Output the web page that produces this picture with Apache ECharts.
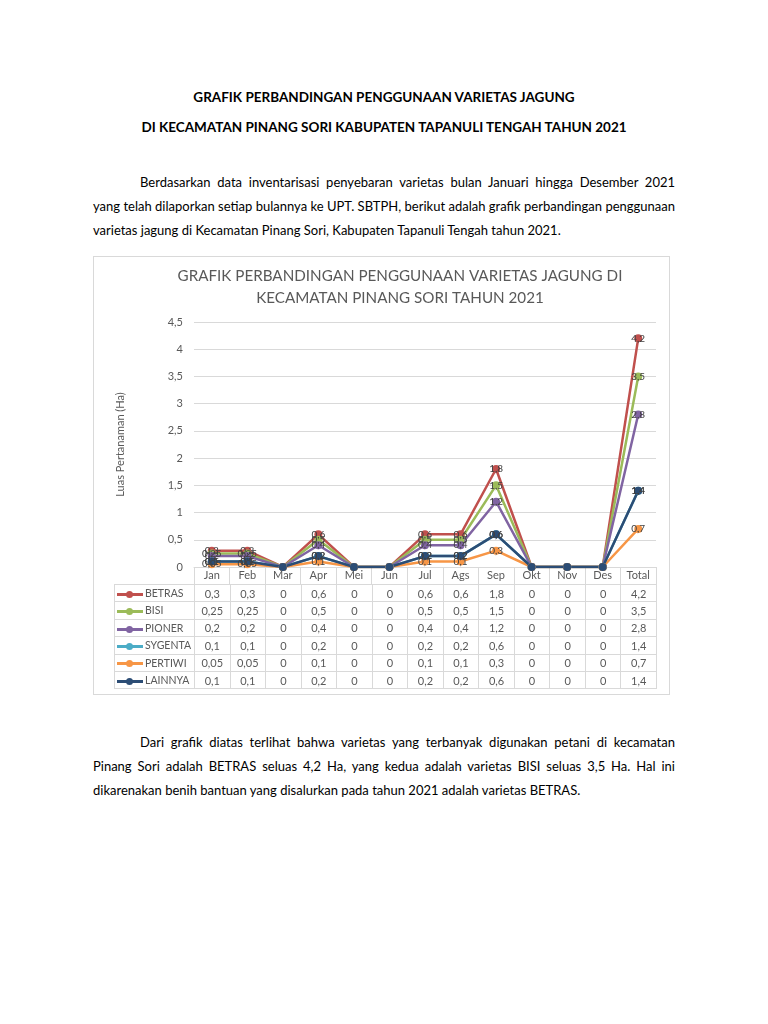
<!DOCTYPE html>
<html><head><meta charset="utf-8">
<script src="https://cdn.jsdelivr.net/npm/echarts@6/dist/echarts.min.js"></script>
<style>
body{margin:0;background:#fff;width:768px;height:1024px;position:relative;font-family:Lato,'Noto Sans',sans-serif;color:#000;overflow:hidden}
.t{position:absolute;left:0;width:768px;text-align:center;font-weight:bold;font-size:13.5px;line-height:20px}
.p{position:absolute;left:93px;width:582px;font-size:13px}
.p div{height:24px;line-height:24px;text-align:justify;text-align-last:justify;white-space:nowrap}
.p div.first{text-indent:47px}
.p div.last{text-align-last:left}
#box{position:absolute;left:93px;top:256px;width:577px;height:439px;border:1px solid #d9d9d9;box-sizing:border-box}
#chart{position:absolute;left:93px;top:256px;width:577px;height:439px}
#tbl{position:absolute;left:114px;top:584px;border-collapse:collapse;font-size:11px;color:#595959;table-layout:fixed}
#tbl td{border:1px solid #d9d9d9;padding:0;text-align:center;overflow:hidden}
#tbl td.nm{text-align:left;white-space:nowrap;font-size:10.5px}
.key{display:inline-block;position:relative;width:26px;height:10px;vertical-align:middle;margin:0 2px 0 2px}
.key i{position:absolute;left:0;top:3.5px;width:26px;height:3px}
.key b{position:absolute;left:9px;top:1.5px;width:7px;height:7px;border-radius:50%}
</style></head>
<body>
<div class="t" style="top:87px">GRAFIK PERBANDINGAN PENGGUNAAN VARIETAS JAGUNG</div>
<div class="t" style="top:117px">DI KECAMATAN PINANG SORI KABUPATEN TAPANULI TENGAH TAHUN 2021</div>
<div class="p" style="top:170px">
<div class="first">Berdasarkan data inventarisasi penyebaran varietas bulan Januari hingga Desember 2021</div>
<div>yang telah dilaporkan setiap bulannya ke UPT. SBTPH, berikut adalah grafik perbandingan penggunaan</div>
<div class="last">varietas jagung di Kecamatan Pinang Sori, Kabupaten Tapanuli Tengah tahun 2021.</div>
</div>
<div id="box"></div>
<div id="chart"></div>
<table id="tbl"></table>
<div class="p" style="top:730px">
<div class="first">Dari grafik diatas terlihat bahwa varietas yang terbanyak digunakan petani di kecamatan</div>
<div>Pinang Sori adalah BETRAS seluas 4,2 Ha, yang kedua adalah varietas BISI seluas 3,5 Ha. Hal ini</div>
<div class="last">dikarenakan benih bantuan yang disalurkan pada tahun 2021 adalah varietas BETRAS.</div>
</div>
<script>
var categories = ['Jan','Feb','Mar','Apr','Mei','Jun','Jul','Ags','Sep','Okt','Nov','Des','Total'];
var seriesNames = ['BETRAS','BISI','PIONER','SYGENTA','PERTIWI','LAINNYA'];
var betras  = [0.3,0.3,0,0.6,0,0,0.6,0.6,1.8,0,0,0,4.2];
var bisi    = [0.25,0.25,0,0.5,0,0,0.5,0.5,1.5,0,0,0,3.5];
var pioner  = [0.2,0.2,0,0.4,0,0,0.4,0.4,1.2,0,0,0,2.8];
var sygenta = [0.1,0.1,0,0.2,0,0,0.2,0.2,0.6,0,0,0,1.4];
var pertiwi = [0.05,0.05,0,0.1,0,0,0.1,0.1,0.3,0,0,0,0.7];
var lainnya = [0.1,0.1,0,0.2,0,0,0.2,0.2,0.6,0,0,0,1.4];
var yTicks = [0,0.5,1,1.5,2,2.5,3,3.5,4,4.5];
var colors = ['#C0504D','#9BBB59','#8064A2','#4BACC6','#F79646','#2C4D75'];
var allData = [betras,bisi,pioner,sygenta,pertiwi,lainnya];
function fmt(v){return String(v).replace('.',',');}

// table (cells built from the arrays)
var tbl = document.getElementById('tbl');
var colW = 462/categories.length;
var cg = document.createElement('colgroup');
var c0 = document.createElement('col'); c0.style.width='80px'; cg.appendChild(c0);
categories.forEach(function(){var c=document.createElement('col'); c.style.width=colW+'px'; cg.appendChild(c);});
tbl.appendChild(cg);
tbl.style.width = (80+462)+'px';
allData.forEach(function(arr,i){
  var tr = document.createElement('tr'); tr.style.height='17.4px';
  var td = document.createElement('td'); td.className='nm';
  td.innerHTML = '<span class="key"><i style="background:'+colors[i]+'"></i><b style="background:'+colors[i]+'"></b></span>'+seriesNames[i];
  tr.appendChild(td);
  arr.forEach(function(v){
    var c = document.createElement('td'); c.textContent = fmt(v); tr.appendChild(c);
  });
  tbl.appendChild(tr);
});

var chart = echarts.init(document.getElementById('chart'));
var FONT = 'Lato';
chart.setOption({
  animation:false,
  title:{text:'GRAFIK PERBANDINGAN PENGGUNAAN VARIETAS JAGUNG DI\nKECAMATAN PINANG SORI TAHUN 2021',left:302,top:4,textAlign:'center',
    textStyle:{fontFamily:FONT,fontSize:15.2,fontWeight:'normal',color:'#595959',lineHeight:22}},
  grid:{left:101,right:14,top:66,bottom:128},
  xAxis:{type:'category',data:categories,boundaryGap:true,
    axisLine:{lineStyle:{color:'#d9d9d9'}},
    axisTick:{show:true,length:17,interval:0,lineStyle:{color:'#d9d9d9'}},
    axisLabel:{fontFamily:FONT,fontSize:11,color:'#595959',margin:3,interval:0}},
  yAxis:{type:'value',min:0,max:4.5,interval:0.5,
    name:'Luas Pertanaman (Ha)',nameLocation:'middle',nameGap:68,
    nameTextStyle:{fontFamily:FONT,fontSize:11,color:'#595959'},
    axisLabel:{fontFamily:FONT,fontSize:11,color:'#595959',margin:11,formatter:function(v){return fmt(v);}},
    splitLine:{lineStyle:{color:'#d9d9d9'}},axisLine:{show:false},axisTick:{show:false}},
  series: allData.map(function(arr,i){
    return {type:'line',name:seriesNames[i],data:arr,color:colors[i],
      symbol:'circle',symbolSize:8,lineStyle:{width:2.5},
      label:{show:true,position:'inside',fontFamily:FONT,fontSize:10,color:'#404040',
        formatter:function(p){return p.value===0?'':fmt(p.value);}}};
  })
});
</script>
</body></html>
